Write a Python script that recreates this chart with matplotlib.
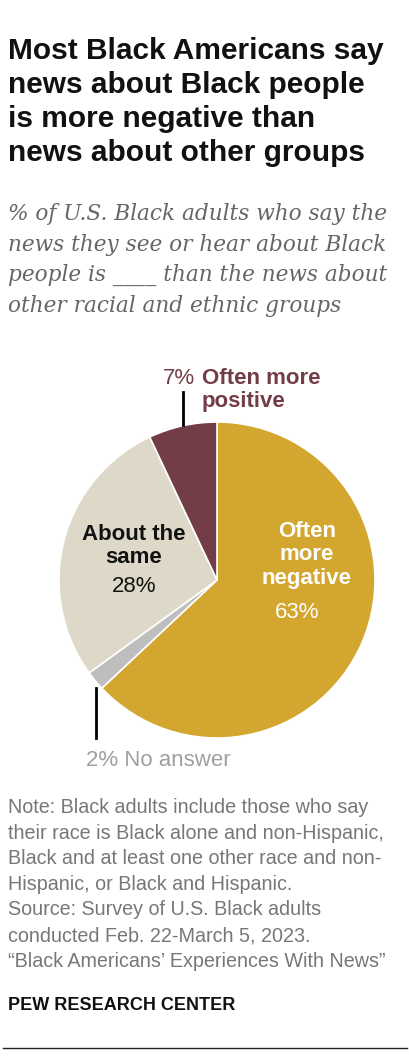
import matplotlib.pyplot as plt

labels = ['Often more negative', 'No answer', 'About the same', 'Often more positive']
values = [63, 2, 28, 7]
colors = ['#D3A62F', '#BEBEBE', '#DDD8C8', '#733D47']

W, H = 410, 1056
fig = plt.figure(figsize=(W / 100, H / 100), dpi=100)
fig.patch.set_facecolor('white')

def px(x, y):
    return x / W, 1 - y / H

cx, cy, r = 217, 580, 158
ax = fig.add_axes([(cx - r) / W, 1 - (cy + r) / H, 2 * r / W, 2 * r / H])
ax.pie(values, colors=colors, startangle=90, counterclock=False,
       wedgeprops=dict(edgecolor='white', linewidth=1.2))
ax.set_xlim(-1, 1)
ax.set_ylim(-1, 1)
ax.axis('off')

# title
fig.text(*px(8, 37), 'Most Black Americans say\nnews about Black people\nis more negative than\nnews about other groups',
         fontsize=21.5, fontweight='bold', va='top', ha='left', linespacing=1.28,
         family='Liberation Sans', color='#111111')
fig.text(*px(8, 203), '% of U.S. Black adults who say the\nnews they see or hear about Black\npeople is ____ than the news about\nother racial and ethnic groups',
         fontsize=15.6, style='italic', va='top', ha='left', linespacing=1.5,
         family='DejaVu Serif', color='#666666')

# slice labels
fig.text(*px(307, 555), 'Often\nmore\nnegative', color='white', fontsize=16, fontweight='bold',
         ha='center', va='center', linespacing=1.15, family='Liberation Sans')
fig.text(*px(297, 612), '63%', color='white', fontsize=16, ha='center', va='center',
         family='Liberation Sans')
fig.text(*px(134, 546), 'About the\nsame', color='#111111', fontsize=16, fontweight='bold',
         ha='center', va='center', linespacing=1.15, family='Liberation Sans')
fig.text(*px(134, 587), '28%', color='#111111', fontsize=16, ha='center', va='center',
         family='Liberation Sans')
fig.text(*px(163, 379), '7%', color='#733D47', fontsize=16, ha='left', va='center',
         family='Liberation Sans')
fig.text(*px(202, 390), 'Often more\npositive', color='#733D47', fontsize=16, fontweight='bold',
         ha='left', va='center', linespacing=1.1, family='Liberation Sans')
fig.text(*px(86, 760), '2% No answer', color='#A0A0A0', fontsize=16, ha='left', va='center',
         family='Liberation Sans')

# leader lines
fig.add_artist(plt.Line2D([183 / W, 183 / W], [1 - 392 / H, 1 - 425 / H], color='black', lw=2))
fig.add_artist(plt.Line2D([96 / W, 96 / W], [1 - 688 / H, 1 - 738 / H], color='black', lw=2))

# notes
fig.text(*px(8, 798), 'Note: Black adults include those who say\ntheir race is Black alone and non-Hispanic,\nBlack and at least one other race and non-\nHispanic, or Black and Hispanic.\nSource: Survey of U.S. Black adults\nconducted Feb. 22-March 5, 2023.\n\u201cBlack Americans\u2019 Experiences With News\u201d',
         fontsize=14.2, color='#777777', va='top', ha='left', linespacing=1.44,
         family='Liberation Sans')
fig.text(*px(8, 1005), 'PEW RESEARCH CENTER', fontsize=13, fontweight='bold',
         color='#111111', va='center', ha='left', family='Liberation Sans')
fig.add_artist(plt.Line2D([3 / W, 407 / W], [1 - 1048 / H, 1 - 1048 / H], color='#222222', lw=1))

fig.savefig('out.png', dpi=100)
